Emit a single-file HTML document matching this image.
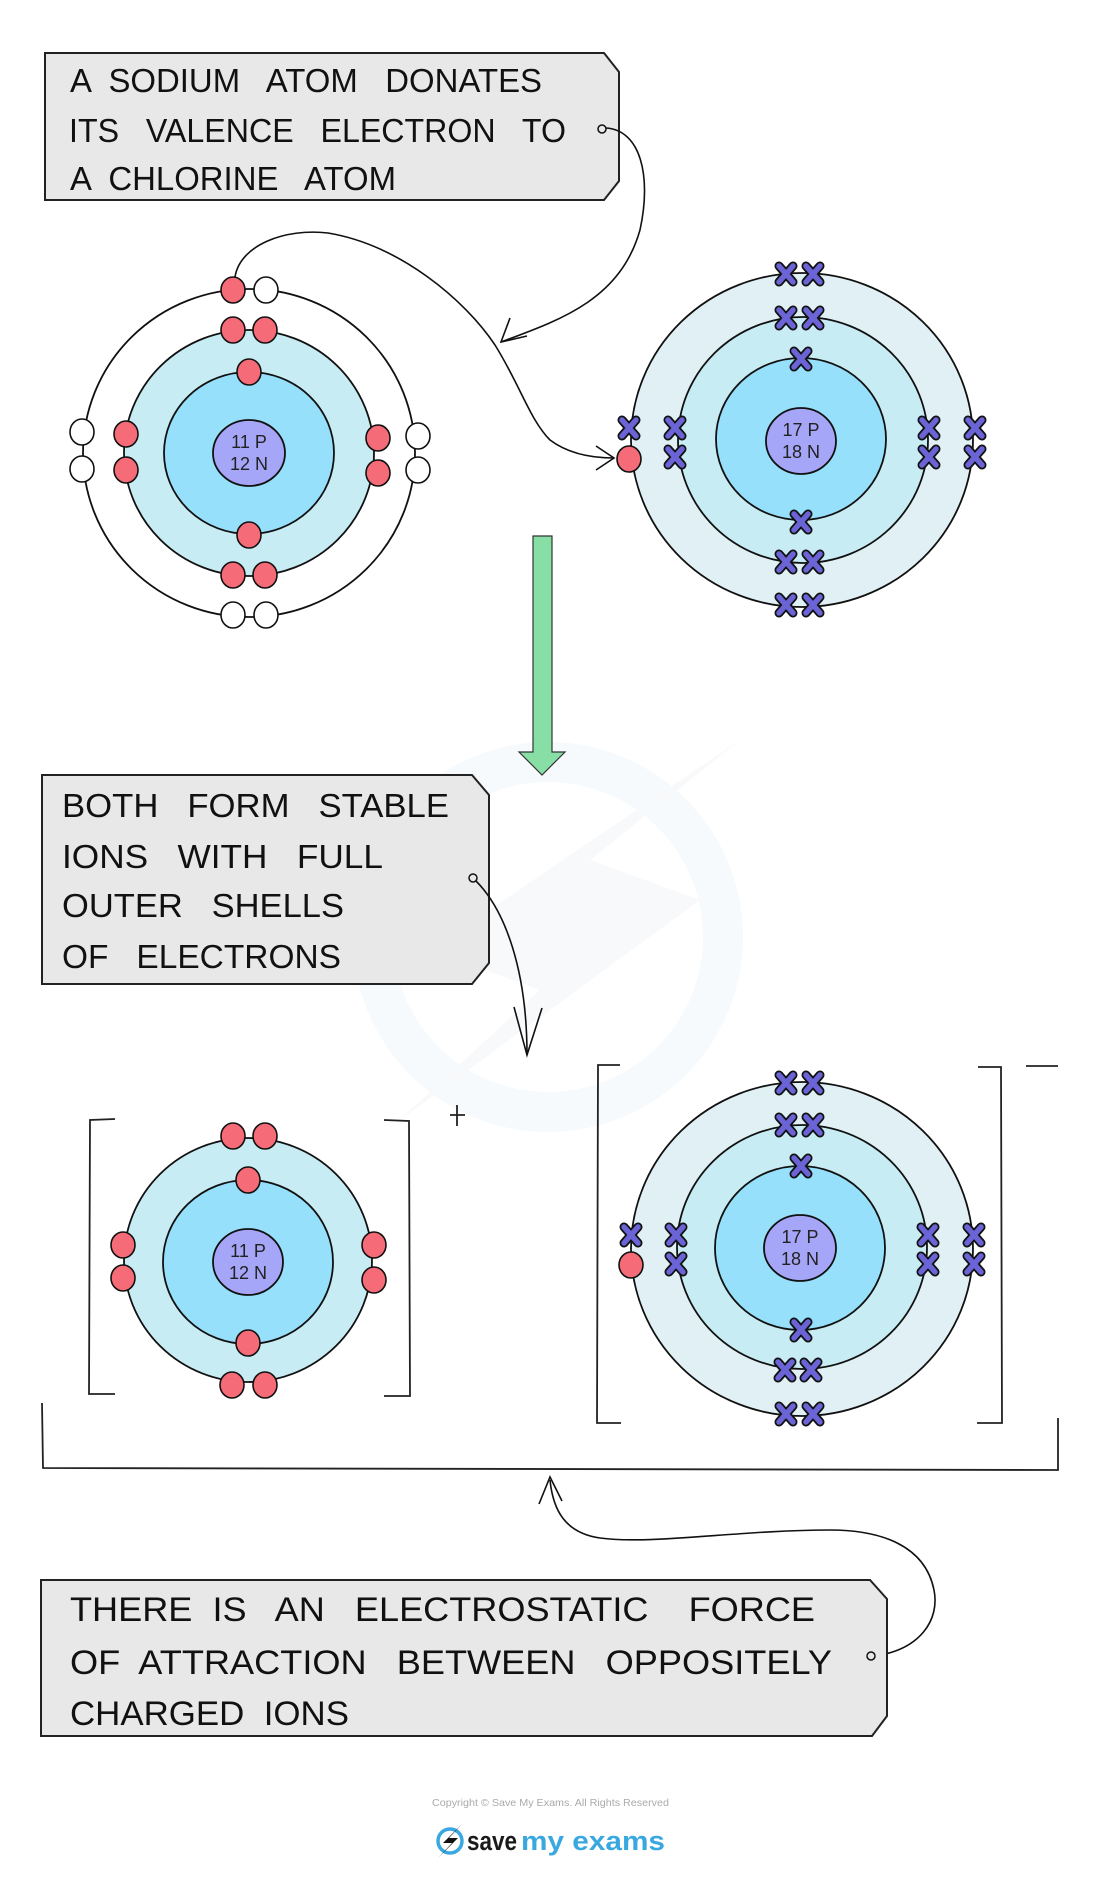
<!DOCTYPE html>
<html><head><meta charset="utf-8"><style>
html,body{margin:0;padding:0;background:#fff}
svg{display:block}
text{font-family:"Liberation Sans",sans-serif;white-space:pre}
</style></head><body>
<svg width="1100" height="1883" viewBox="0 0 1100 1883" xmlns="http://www.w3.org/2000/svg" xml:space="preserve">
<defs>
<g id="x"><path d="M-7,-8 L7,8 M7,-8 L-7,8" stroke="#111" stroke-width="9" stroke-linecap="round"/><path d="M-7,-8 L7,8 M7,-8 L-7,8" stroke="#6b64d6" stroke-width="5.5" stroke-linecap="round"/></g>
<ellipse id="e" rx="12" ry="13" fill="#f56b78" stroke="#111" stroke-width="1.6"/>
<ellipse id="w" rx="12" ry="13" fill="#fff" stroke="#111" stroke-width="1.6"/>
</defs>

<!-- watermark -->
<circle cx="548" cy="937" r="175" fill="none" stroke="#f6fafc" stroke-width="40"/>
<path d="M740,740 L430,950 L540,990 L400,1120 L700,900 L590,860 Z" fill="#f8f9fa"/>

<!-- Box 1 -->
<path d="M45,53 L604,53 L619,72 L619,181 L604,200 L45,200 Z" fill="#e8e8e8" stroke="#222" stroke-width="2"/>
<g font-size="33" fill="#111">
<text x="70" y="92" textLength="472" lengthAdjust="spacingAndGlyphs">A  SODIUM   ATOM   DONATES</text>
<text x="69" y="142" textLength="497" lengthAdjust="spacingAndGlyphs">ITS   VALENCE   ELECTRON   TO</text>
<text x="70" y="190" textLength="326" lengthAdjust="spacingAndGlyphs">A  CHLORINE   ATOM</text>
</g>
<circle cx="602" cy="129" r="4" fill="none" stroke="#111" stroke-width="1.5"/>
<path d="M606,128 C640,130 652,175 640,230 C620,300 560,320 501,342" fill="none" stroke="#111" stroke-width="1.6"/>
<path d="M510,318 L501,342 L527,336" fill="none" stroke="#111" stroke-width="1.6"/>

<!-- Sodium atom -->
<g stroke="#111" stroke-width="1.8">
<ellipse cx="249" cy="453" rx="166" ry="164" fill="#fff"/>
<ellipse cx="249" cy="453" rx="125" ry="123" fill="#c8ecf3"/>
<ellipse cx="249" cy="453" rx="85" ry="81" fill="#97e0fb"/>
<ellipse cx="249" cy="453" rx="36" ry="33" fill="#a6a6f8"/>
</g>
<text x="249" y="448" font-size="18" text-anchor="middle" fill="#222">11 P</text>
<text x="249" y="470" font-size="18" text-anchor="middle" fill="#222">12 N</text>
<use href="#e" x="249" y="372"/><use href="#e" x="249" y="535"/>
<use href="#e" x="233" y="330"/><use href="#e" x="265" y="330"/>
<use href="#e" x="233" y="575"/><use href="#e" x="265" y="575"/>
<use href="#e" x="126" y="434"/><use href="#e" x="126" y="470"/>
<use href="#e" x="378" y="438"/><use href="#e" x="378" y="473"/>
<use href="#e" x="233" y="290"/><use href="#w" x="266" y="290"/>
<use href="#w" x="233" y="615"/><use href="#w" x="266" y="615"/>
<use href="#w" x="82" y="432"/><use href="#w" x="82" y="469"/>
<use href="#w" x="418" y="436"/><use href="#w" x="418" y="470"/>

<!-- transfer arrow -->
<path d="M235,277 C240,245 285,228 328,233 C400,245 465,300 495,345 C520,385 530,420 550,440 C570,455 595,458 614,458" fill="none" stroke="#111" stroke-width="1.6"/>
<path d="M596,446 L614,458 L596,470" fill="none" stroke="#111" stroke-width="1.6"/>

<!-- Chlorine atom -->
<g stroke="#111" stroke-width="1.8">
<ellipse cx="802" cy="440" rx="171" ry="167" fill="#e0f0f5"/>
<ellipse cx="803" cy="440" rx="125" ry="123" fill="#c8ecf3"/>
<ellipse cx="801" cy="439" rx="85" ry="81" fill="#97e0fb"/>
<ellipse cx="801" cy="441" rx="35" ry="33" fill="#a6a6f8"/>
</g>
<text x="801" y="436" font-size="18" text-anchor="middle" fill="#222">17 P</text>
<text x="801" y="458" font-size="18" text-anchor="middle" fill="#222">18 N</text>
<use href="#x" x="786" y="274"/><use href="#x" x="813" y="274"/>
<use href="#x" x="786" y="318"/><use href="#x" x="813" y="318"/>
<use href="#x" x="801" y="359"/><use href="#x" x="801" y="522"/>
<use href="#x" x="786" y="562"/><use href="#x" x="813" y="562"/>
<use href="#x" x="786" y="605"/><use href="#x" x="813" y="605"/>
<use href="#x" x="629" y="428"/><use href="#e" x="629" y="459"/>
<use href="#x" x="675" y="428"/><use href="#x" x="675" y="457"/>
<use href="#x" x="929" y="428"/><use href="#x" x="929" y="457"/>
<use href="#x" x="975" y="428"/><use href="#x" x="975" y="457"/>

<!-- green arrow -->
<path d="M533,536 L552,536 L552,752 L565,752 L542,775 L519,752 L533,752 Z" fill="#87dfa5" stroke="#333" stroke-width="1.2"/>

<!-- Box 2 -->
<path d="M42,775 L472,775 L489,795 L489,963 L472,984 L42,984 Z" fill="#e8e8e8" stroke="#222" stroke-width="2"/>
<g font-size="33" fill="#111">
<text x="62" y="817" textLength="387" lengthAdjust="spacingAndGlyphs">BOTH   FORM   STABLE</text>
<text x="62" y="868" textLength="321" lengthAdjust="spacingAndGlyphs">IONS   WITH   FULL</text>
<text x="62" y="917" textLength="282" lengthAdjust="spacingAndGlyphs">OUTER   SHELLS</text>
<text x="62" y="968" textLength="279" lengthAdjust="spacingAndGlyphs">OF   ELECTRONS</text>
</g>
<circle cx="473" cy="878" r="4" fill="none" stroke="#111" stroke-width="1.5"/>
<path d="M476,881 C505,910 527,970 527,1055" fill="none" stroke="#111" stroke-width="1.6"/>
<path d="M514,1007 L527,1055 L542,1008" fill="none" stroke="#111" stroke-width="1.6"/>

<!-- Na ion -->
<g stroke="#111" stroke-width="1.8">
<ellipse cx="248" cy="1260" rx="124" ry="122" fill="#c8ecf3"/>
<ellipse cx="248" cy="1262" rx="85" ry="82" fill="#97e0fb"/>
<ellipse cx="248" cy="1262" rx="35" ry="33" fill="#a6a6f8"/>
</g>
<text x="248" y="1257" font-size="18" text-anchor="middle" fill="#222">11 P</text>
<text x="248" y="1279" font-size="18" text-anchor="middle" fill="#222">12 N</text>
<use href="#e" x="248" y="1180"/><use href="#e" x="248" y="1343"/>
<use href="#e" x="233" y="1136"/><use href="#e" x="265" y="1136"/>
<use href="#e" x="232" y="1385"/><use href="#e" x="265" y="1385"/>
<use href="#e" x="123" y="1245"/><use href="#e" x="123" y="1278"/>
<use href="#e" x="374" y="1245"/><use href="#e" x="374" y="1280"/>
<g fill="none" stroke="#222" stroke-width="1.8">
<path d="M115,1119 L90,1120 L89,1394 L115,1394"/>
<path d="M384,1120 L409,1121 L410,1396 L384,1396"/>
<path d="M450,1115 L465,1115 M457,1105 L457,1126"/>
</g>

<!-- Cl ion -->
<g stroke="#111" stroke-width="1.8">
<ellipse cx="802" cy="1249" rx="171" ry="167" fill="#e0f0f5"/>
<ellipse cx="802" cy="1247" rx="125" ry="122" fill="#c8ecf3"/>
<ellipse cx="800" cy="1248" rx="85" ry="82" fill="#97e0fb"/>
<ellipse cx="800" cy="1248" rx="36" ry="33" fill="#a6a6f8"/>
</g>
<text x="800" y="1243" font-size="18" text-anchor="middle" fill="#222">17 P</text>
<text x="800" y="1265" font-size="18" text-anchor="middle" fill="#222">18 N</text>
<use href="#x" x="786" y="1083"/><use href="#x" x="813" y="1083"/>
<use href="#x" x="786" y="1125"/><use href="#x" x="813" y="1125"/>
<use href="#x" x="801" y="1166"/><use href="#x" x="801" y="1330"/>
<use href="#x" x="785" y="1370"/><use href="#x" x="811" y="1370"/>
<use href="#x" x="786" y="1414"/><use href="#x" x="813" y="1414"/>
<use href="#x" x="631" y="1235"/><use href="#e" x="631" y="1265"/>
<use href="#x" x="676" y="1235"/><use href="#x" x="676" y="1264"/>
<use href="#x" x="928" y="1235"/><use href="#x" x="928" y="1264"/>
<use href="#x" x="974" y="1235"/><use href="#x" x="974" y="1264"/>
<g fill="none" stroke="#222" stroke-width="1.8">
<path d="M620,1065 L598,1065 L597,1423 L621,1423"/>
<path d="M978,1067 L1001,1067 L1002,1423 L977,1423"/>
<path d="M1026,1066 L1058,1066"/>
<path d="M42,1403 L43,1468 L1058,1470 L1058,1418"/>
</g>

<!-- bottom arrow -->
<path d="M874,1656 C920,1650 940,1620 934,1590 C925,1545 880,1530 830,1530 C740,1530 650,1545 600,1538 C565,1533 553,1510 550,1480" fill="none" stroke="#111" stroke-width="1.6"/>
<path d="M539,1504 L550,1477 L562,1501" fill="none" stroke="#111" stroke-width="1.6"/>

<!-- Box 3 -->
<path d="M41,1580 L870,1580 L887,1599 L887,1716 L872,1736 L41,1736 Z" fill="#e8e8e8" stroke="#222" stroke-width="2"/>
<g font-size="34" fill="#111">
<text x="70" y="1621" textLength="745" lengthAdjust="spacingAndGlyphs">THERE  IS   AN   ELECTROSTATIC    FORCE</text>
<text x="70" y="1674" textLength="762" lengthAdjust="spacingAndGlyphs">OF  ATTRACTION   BETWEEN   OPPOSITELY</text>
<text x="70" y="1725" textLength="279" lengthAdjust="spacingAndGlyphs">CHARGED  IONS</text>
</g>
<circle cx="871" cy="1656" r="4" fill="none" stroke="#111" stroke-width="1.5"/>

<!-- footer -->
<text x="432" y="1806" font-size="10.5" fill="#aaa" textLength="237" lengthAdjust="spacingAndGlyphs">Copyright © Save My Exams. All Rights Reserved</text>
<circle cx="450" cy="1841" r="12" fill="none" stroke="#3aa8e0" stroke-width="3.5"/>
<path d="M462,1824 L443,1843 L452,1843 L438,1858 L458,1838 L449,1838 Z" fill="#111"/>
<text x="467" y="1850" font-size="27" font-weight="bold" fill="#1a1a1a" textLength="50" lengthAdjust="spacingAndGlyphs">save</text>
<text x="521" y="1850" font-size="27" font-weight="bold" fill="#3aa8e0" textLength="144" lengthAdjust="spacingAndGlyphs">my exams</text>
</svg>
</body></html>
